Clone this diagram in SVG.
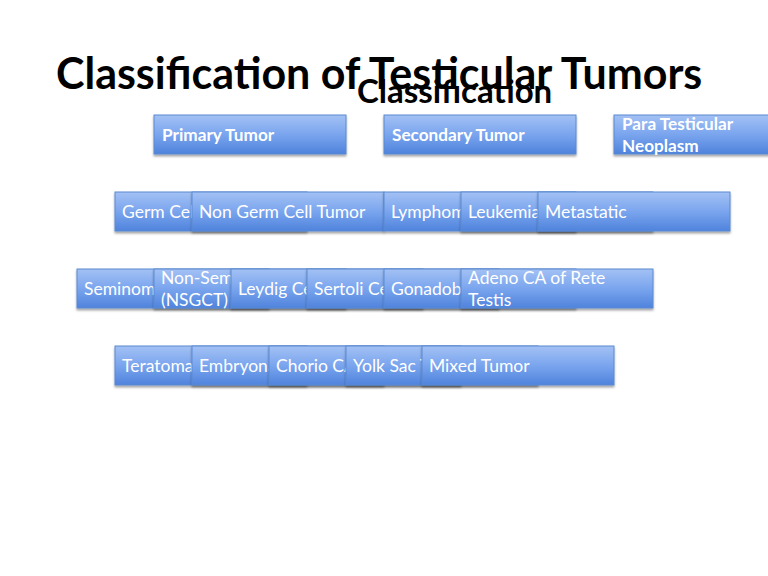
<svg xmlns="http://www.w3.org/2000/svg" width="768" height="576" viewBox="0 0 768 576">
<defs>
<linearGradient id="g" x1="0" y1="0" x2="0" y2="1"><stop offset="0" stop-color="#a3c1f4"/><stop offset="0.5" stop-color="#7aa5ee"/><stop offset="1" stop-color="#4f83dc"/></linearGradient>
<filter id="sh" x="-5%" y="-10%" width="110%" height="130%"><feDropShadow dx="0" dy="2" stdDeviation="1" flood-color="#000" flood-opacity="0.35"/></filter>
<clipPath id="c1"><rect x="0" y="0" width="77" height="576"/></clipPath>
<clipPath id="c2"><rect x="0" y="0" width="76" height="576"/></clipPath>
</defs>
<style>
rect.n{fill:url(#g);stroke:#5b8ad0;stroke-width:1;filter:url(#sh)}
text{font-family:Lato,"Open Sans","Liberation Sans",sans-serif;fill:#fff;font-size:17.5px}
text.b{font-weight:bold;font-size:17.2px}
text.t{fill:#000;font-weight:bold}
</style>
<rect width="768" height="576" fill="#fff"/>
<text class="t" x="56" y="89" style="font-size:43px">Classification of Testicular Tumors</text>
<text class="t" x="357" y="103" style="font-size:33px">Classification</text>
<g id="connectors"/>
<g id="n-primary"><rect class="n" x="154" y="115" width="192" height="39"/><text class="b" x="162" y="141">Primary Tumor</text></g>
<g id="n-secondary"><rect class="n" x="384" y="115" width="192" height="39"/><text class="b" x="392" y="141">Secondary Tumor</text></g>
<g id="n-para"><rect class="n" x="614" y="115" width="192" height="39"/><text class="b" x="622" y="130">Para Testicular</text><text class="b" x="622" y="152">Neoplasm</text></g>

<g id="n-germ" transform="translate(115,192)"><rect class="n" x="0" y="0" width="192" height="39"/><text x="7" y="26" clip-path="url(#c1)">Germ Cell Tumor</text></g>
<g id="n-nongerm" transform="translate(192,192)"><rect class="n" x="0" y="0" width="192" height="39"/><text x="7" y="26">Non Germ Cell Tumor</text></g>
<g id="n-lymphoma" transform="translate(384,192)"><rect class="n" x="0" y="0" width="192" height="39"/><text x="7" y="26" clip-path="url(#c1)">Lymphoma</text></g>
<g id="n-leukemia" transform="translate(461,192)"><rect class="n" x="0" y="0" width="192" height="39"/><text x="7" y="26" clip-path="url(#c1)">Leukemia</text></g>
<g id="n-metastatic" transform="translate(538,192)"><rect class="n" x="0" y="0" width="192" height="39"/><text x="7" y="26">Metastatic</text></g>

<g id="n-seminoma" transform="translate(77,269)"><rect class="n" x="0" y="0" width="192" height="39"/><text x="7" y="26" clip-path="url(#c1)">Seminoma</text></g>
<g id="n-nonsem" transform="translate(154,269)"><rect class="n" x="0" y="0" width="192" height="39"/><text x="7" y="15" clip-path="url(#c1)">Non-Seminoma</text><text x="7" y="37" clip-path="url(#c1)">(NSGCT)</text></g>
<g id="n-leydig" transform="translate(231,269)"><rect class="n" x="0" y="0" width="192" height="39"/><text x="7" y="26" clip-path="url(#c2)">Leydig Cell Tumor</text></g>
<g id="n-sertoli" transform="translate(307,269)"><rect class="n" x="0" y="0" width="192" height="39"/><text x="7" y="26" clip-path="url(#c1)">Sertoli Cell Tumor</text></g>
<g id="n-gonado" transform="translate(384,269)"><rect class="n" x="0" y="0" width="192" height="39"/><text x="7" y="26" clip-path="url(#c1)">Gonadoblastoma</text></g>
<g id="n-adeno" transform="translate(461,269)"><rect class="n" x="0" y="0" width="192" height="39"/><text x="7" y="15">Adeno CA of Rete</text><text x="7" y="37">Testis</text></g>

<g id="n-teratoma" transform="translate(115,346)"><rect class="n" x="0" y="0" width="192" height="39"/><text x="7" y="26" clip-path="url(#c1)">Teratoma</text></g>
<g id="n-embryonal" transform="translate(192,346)"><rect class="n" x="0" y="0" width="192" height="39"/><text x="7" y="26" clip-path="url(#c1)">Embryonal CA</text></g>
<g id="n-chorio" transform="translate(269,346)"><rect class="n" x="0" y="0" width="192" height="39"/><text x="7" y="26" clip-path="url(#c1)">Chorio CA</text></g>
<g id="n-yolk" transform="translate(346,346)"><rect class="n" x="0" y="0" width="192" height="39"/><text x="7" y="26" clip-path="url(#c2)">Yolk Sac Tumor</text></g>
<g id="n-mixed" transform="translate(422,346)"><rect class="n" x="0" y="0" width="192" height="39"/><text x="7" y="26">Mixed Tumor</text></g>
</svg>
